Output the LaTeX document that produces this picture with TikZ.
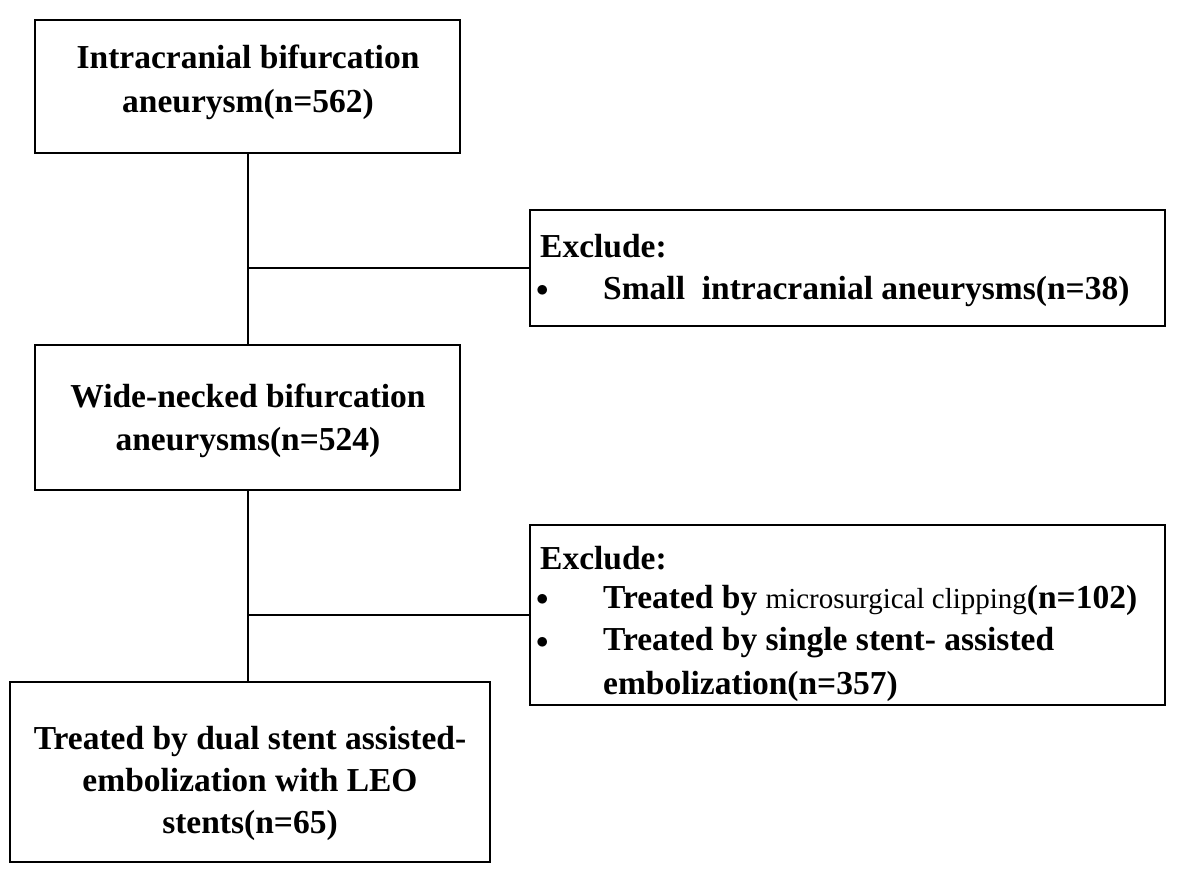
\documentclass[tikz,border=0pt]{standalone}
\usepackage{fontspec}
\setmainfont{Liberation Serif}
\begin{document}
\begin{tikzpicture}[x=1pt,y=-1pt,
  box/.style={draw,line width=1.8pt},
  ln/.style={line width=1.8pt},
  t/.style={font=\fontsize{33.5}{36}\selectfont\bfseries,inner sep=0pt},
  tl/.style={t,anchor=west},
  cl/.style={t,align=center}]
\useasboundingbox (0,0) rectangle (1200,883);
\draw[box] (35,20) rectangle (460,153);
\node[cl] (b1) at (248,82) {Intracranial bifurcation\\[8pt]aneurysm(n=562)};
\draw[box] (35,345) rectangle (460,490);
\node[cl] (b2) at (248,421) {Wide-necked bifurcation\\[7pt]aneurysms(n=524)};
\draw[box] (10,682) rectangle (490,862);
\node[cl] (b5) at (250,783) {Treated by dual stent assisted-\\[6pt]embolization with LEO\\[6pt]stents(n=65)};
\draw[box] (530,210) rectangle (1165,326);
\node[tl] (e1) at (540,246) {Exclude:};
\node[tl] (e1a) at (536,291) {$\bullet$};
\node[tl] (e1b) at (603,291) {Small\ \ intracranial aneurysms(n=38)};
\draw[box] (530,525) rectangle (1165,705);
\node[tl] (e2) at (540,558) {Exclude:};
\node[tl] (e2a) at (536,600) {$\bullet$};
\node[tl] (e2b) at (603,600) {Treated by {\mdseries\fontsize{29}{32}\selectfont microsurgical clipping}(n=102)};
\node[tl] (e2c) at (536,643) {$\bullet$};
\node[tl] (e2d) at (603,643) {Treated by single stent- assisted};
\node[tl] (e2e) at (603,686) {embolization(n=357)};
\coordinate (j1) at (248,268);
\coordinate (j2) at (248,615);
\draw[ln] (248,153) -- (248,345);
\draw[ln] (j1) -- (530,268);
\draw[ln] (248,490) -- (248,682);
\draw[ln] (j2) -- (530,615);
\end{tikzpicture}
\end{document}
